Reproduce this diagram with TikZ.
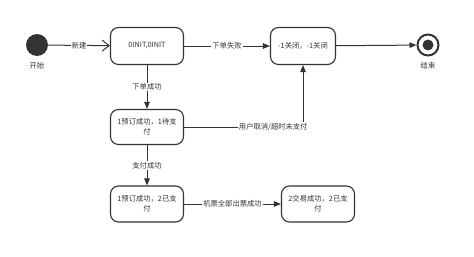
\documentclass[tikz,border=0pt]{standalone}
\usepackage{fontspec}
\setmainfont{Noto Sans CJK SC}
\usetikzlibrary{arrows.meta,positioning}
\definecolor{ink}{HTML}{333333}

\begin{document}
\begin{tikzpicture}[x=1pt,y=-1pt,
    state/.style={draw=ink,rounded corners=8pt,line width=1.1pt,fill=white,text=ink,minimum width=73pt,minimum height=37pt,align=center,font=\fontsize{7.3}{10}\selectfont},
    trans/.style={-{Triangle[length=7pt,width=5.5pt]},ink,line width=1pt},
    lbl/.style={fill=white,inner sep=1pt,text=ink,font=\fontsize{7.3}{8}\selectfont},
    pointlbl/.style={text=ink,font=\fontsize{7.3}{8}\selectfont}]
  \useasboundingbox[fill=white] (0,0) rectangle (474,257);

  % start and end
  \node[circle,fill=ink,minimum size=22pt,inner sep=0pt] (start) at (37,45) {};
  \node[pointlbl] (startlbl) at (37,66) {开始};
  \node[circle,draw=ink,line width=2pt,fill=white,minimum size=21pt,inner sep=0pt] (stop) at (428,45) {};
  \node[circle,fill=ink,minimum size=11pt,inner sep=0pt] (stopdot) at (428,45) {};
  \node[pointlbl] (stoplbl) at (428,66) {结束};

  % states
  \node[state] (init) at (147,46) {0INIT,0INIT};
  \node[state,minimum width=65pt] (closed) at (303,46) {-1关闭，-1关闭};
  \node[state,minimum height=35pt] (wait) at (147,127) {1预订成功，1待支\\付};
  \node[state,minimum height=36pt] (paid) at (147,204) {1预订成功，2已支\\付};
  \node[state,minimum height=36pt] (done) at (318,204) {2交易成功，2已支\\付};

  % transitions
  \draw[-{Straight Barb[length=7pt,width=11pt]},ink,line width=1pt] (start) -- node[lbl] {新建} (init);
  \draw[trans] (init) -- node[lbl] {下单失败} (closed);
  \draw[trans] (closed) -- (stop);
  \draw[trans] (init) -- node[lbl] {下单成功} (wait);
  \draw[trans] (wait.east) -| node[lbl,pos=0.375] {用户取消/超时未支付} (closed.south);
  \draw[trans] (wait) -- node[lbl] {支付成功} (paid);
  \draw[trans] (paid) -- node[lbl] {机票全部出票成功} (done);
\end{tikzpicture}
\end{document}
